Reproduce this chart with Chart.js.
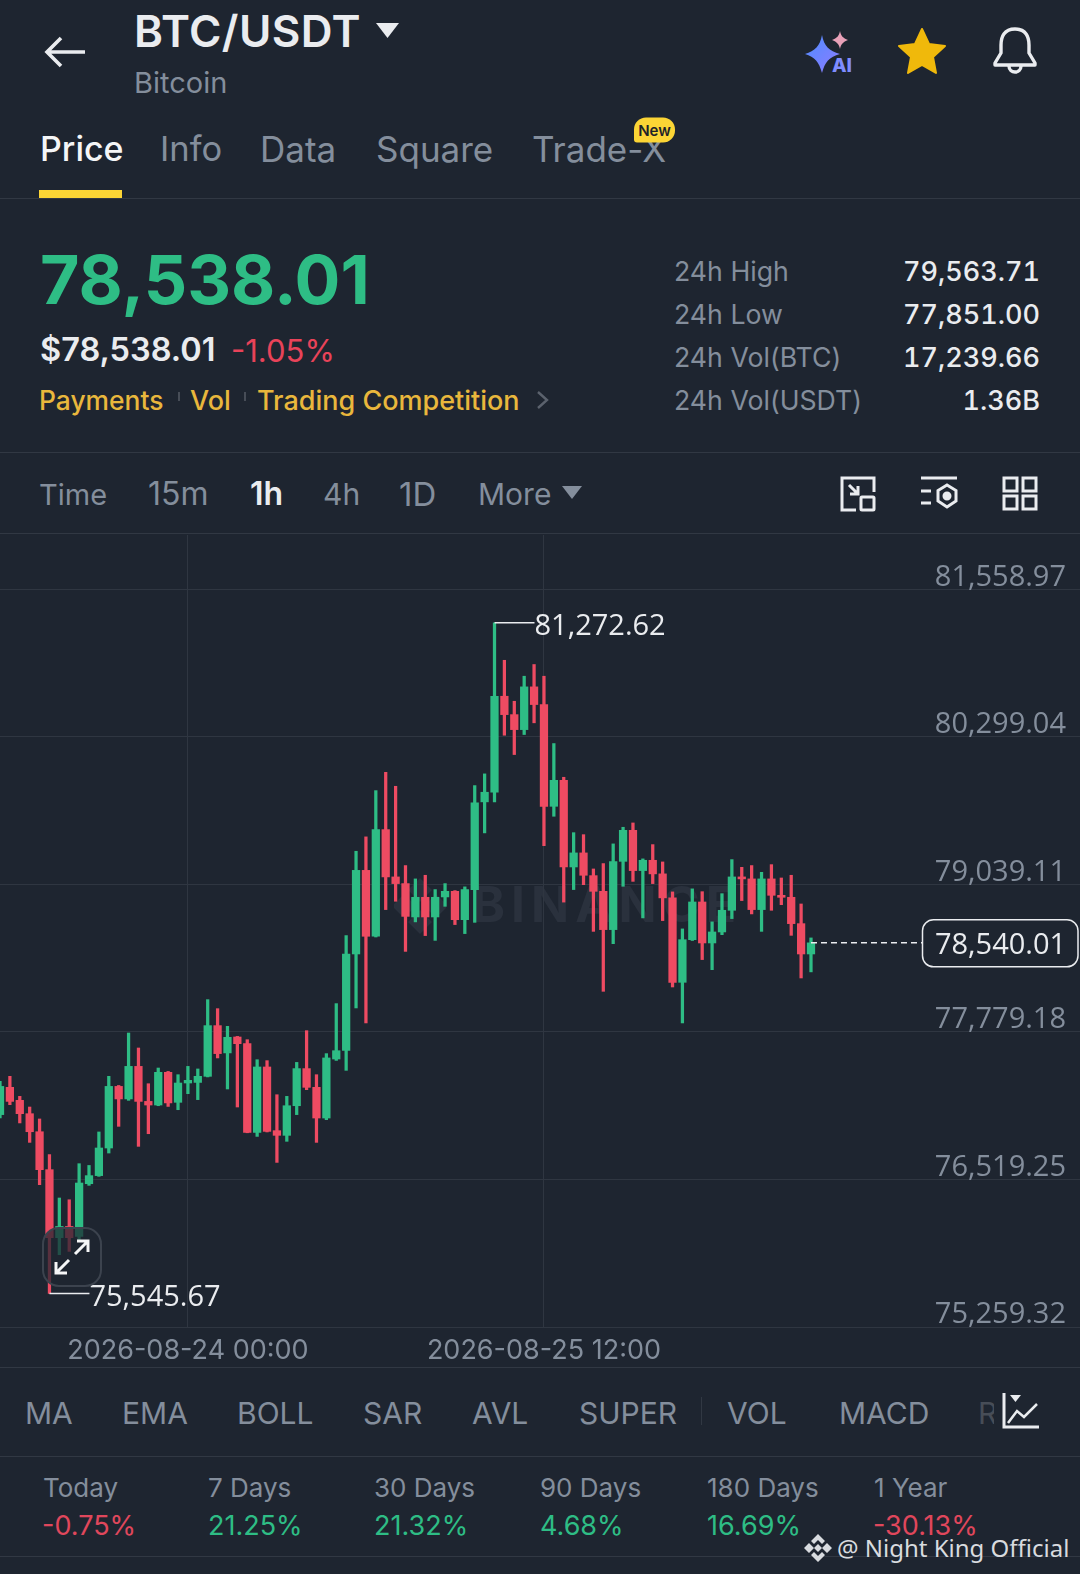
<!DOCTYPE html>
<html>
<head>
<meta charset="utf-8">
<title>BTC/USDT</title>
<script src="https://cdn.jsdelivr.net/npm/chart.js@4"></script>
<style>
html,body{margin:0;padding:0;background:#1e2530;}
#page{position:relative;width:1080px;height:1574px;overflow:hidden;background:#1e2530;font-family:Inter,"Noto Sans",sans-serif;}
.t{position:absolute;white-space:nowrap;line-height:1;transform:translateY(-50%);color:#848e9c;}
.r{transform:translate(-100%,-50%);}
.val{font-size:27px;font-weight:500;color:#eaecef;font-variant-numeric:tabular-nums;}
.line{position:absolute;left:0;width:1080px;height:1px;background:#313843;}
svg{position:absolute;}
#chartBox{position:absolute;left:0;top:535px;width:1080px;height:832px;}
#mark{position:absolute;left:472px;top:904px;transform:translateY(-50%);font-size:50px;font-weight:700;letter-spacing:6px;color:#2a313d;line-height:1;white-space:nowrap;}
#zoomBtn{position:absolute;left:42px;top:1227px;width:56px;height:56px;border:2px solid #3c434e;border-radius:17px;background:rgba(30,37,48,.72);}
</style>
</head>
<body>
<div id="page">

<svg style="left:44px;top:36px" width="42" height="32" viewBox="0 0 42 32" fill="none" stroke="#eaecef" stroke-width="3.6"><path d="M41 16H3M17 2L3 16l14 14"/></svg>
<div class="t" style="left:134px;top:31px;font-size:44px;font-weight:600;letter-spacing:.4px;color:#eaecef">BTC/USDT</div>
<svg style="left:376px;top:23px" width="23" height="15"><path d="M0 0H23L11.500 15Z" fill="#eaecef"/></svg>
<div class="t" style="left:134px;top:82px;font-size:29px">Bitcoin</div>

<svg style="left:805px;top:31px" width="50" height="42" viewBox="0 0 50 42">
<defs><linearGradient id="sp" x1="0" y1="0" x2="1" y2="1"><stop offset="0" stop-color="#4d8dff"/><stop offset="1" stop-color="#8f7bff"/></linearGradient></defs>
<path d="M17 4C19 15 24 20 35 23C24 26 20 31 17 42C14 31 10 26 0 23C10 20 15 15 17 4Z" fill="url(#sp)"/>
<path d="M35 0C36 5 38 7 43 9C38 11 36 13 35 18C34 13 32 11 27 9C32 7 34 5 35 0Z" fill="#e8a1b8"/>
<text x="27" y="41" font-family="Inter" font-size="19" font-weight="800" fill="#7f8dff">AI</text></svg>
<svg style="left:898px;top:28px" width="48" height="46" viewBox="0 0 48 46"><path d="M24 1L31 16L47 18L35 29L38 45L24 37L10 45L13 29L1 18L17 16Z" fill="#f0b90b" stroke="#f0b90b" stroke-width="2" stroke-linejoin="round"/></svg>
<svg style="left:992px;top:27px" width="46" height="48" viewBox="0 0 46 48" fill="none" stroke="#eaecef" stroke-width="3.4" stroke-linejoin="round"><path d="M23 2C12 2 9 10 9 18V26L3 36V38H43V36L37 26V18C37 10 34 2 23 2Z"/><path d="M17 39C17 47 29 47 29 39"/></svg>

<div class="t" style="left:40px;top:149px;font-size:34px;font-weight:500;color:#f5f6f7">Price</div>
<div class="t" style="left:160px;top:149px;font-size:34.500px">Info</div>
<div class="t" style="left:260px;top:149px;font-size:35px">Data</div>
<div class="t" style="left:376px;top:149px;font-size:35px">Square</div>
<div class="t" style="left:532px;top:149px;font-size:35px">Trade-X</div>
<div class="t" style="left:634px;top:130px;width:41px;height:25px;border-radius:12px 12px 12px 3px;background:#fcd535;color:#1e2329;font-size:15px;font-weight:600;line-height:25px;text-align:center">New</div>
<div style="position:absolute;left:39px;top:190px;width:83px;height:8px;background:#fcd535"></div>
<div class="line" style="top:198px"></div>

<div class="t" style="left:40px;top:279px;font-size:68px;font-weight:700;color:#2ebd85">78,538.01</div>
<div class="t" style="left:40px;top:350px;font-size:32.500px;font-weight:600;color:#eaecef">$78,538.01</div>
<div class="t" style="left:231px;top:350px;font-size:31px;color:#e94359">-1.05%</div>
<div class="t" style="left:39px;top:400px;font-size:26.400px;font-weight:500;color:#e9b73c">Payments</div>
<div class="t" style="left:190px;top:400px;font-size:27px;font-weight:500;color:#e9b73c">Vol</div>
<div class="t" style="left:257px;top:400px;font-size:27px;font-weight:500;color:#e9b73c">Trading Competition</div>
<div style="position:absolute;left:178px;top:392px;width:2px;height:9px;background:#474d57"></div>
<div style="position:absolute;left:244px;top:392px;width:2px;height:9px;background:#474d57"></div>
<svg style="left:536px;top:390px" width="14" height="20" fill="none" stroke="#5b626d" stroke-width="2.400"><path d="M2 2l9 8-9 8"/></svg>

<div class="t" style="left:674px;top:271px;font-size:26.700px">24h High</div>
<div class="t" style="left:674px;top:314px;font-size:26.700px">24h Low</div>
<div class="t" style="left:674px;top:357px;font-size:26.700px">24h Vol(BTC)</div>
<div class="t" style="left:674px;top:400px;font-size:26.700px">24h Vol(USDT)</div>
<div class="t r val" style="left:1040px;top:271px">79,563.71</div>
<div class="t r val" style="left:1040px;top:314px">77,851.00</div>
<div class="t r val" style="left:1040px;top:357px">17,239.66</div>
<div class="t r val" style="left:1040px;top:400px">1.36B</div>
<div class="line" style="top:452px"></div>

<div class="t" style="left:39px;top:494px;font-size:29px">Time</div>
<div class="t" style="left:148px;top:494px;font-size:32px">15m</div>
<div class="t" style="left:250px;top:494px;font-size:32px;font-weight:600;color:#eaecef">1h</div>
<div class="t" style="left:323px;top:494px;font-size:30px">4h</div>
<div class="t" style="left:399px;top:494px;font-size:33px">1D</div>
<div class="t" style="left:478px;top:494px;font-size:30px">More</div>
<svg style="left:562px;top:486px" width="20" height="13"><path d="M0 0H20L10 13Z" fill="#848e9c"/></svg>
<svg style="left:840px;top:476px" width="36" height="36" viewBox="0 0 36 36" fill="none" stroke="#eaecef" stroke-width="3"><path d="M16 34H2V2H34V16"/><rect x="21" y="21" width="13" height="13" rx="1"/><path d="M9 9L18 18M18 10V18H10"/></svg>
<svg style="left:920px;top:476px" width="38" height="35" viewBox="0 0 38 35" fill="none" stroke="#eaecef" stroke-width="3"><path d="M1 2H37M1 15H11M1 27H11"/><path d="M27 9L36 14.500V25L27 31L18 25V14.500Z"/><circle cx="27" cy="20" r="3" fill="#eaecef"/></svg>
<svg style="left:1002px;top:476px" width="36" height="35" viewBox="0 0 36 35" fill="none" stroke="#eaecef" stroke-width="3"><rect x="2" y="2" width="13" height="13"/><rect x="21" y="2" width="13" height="13"/><rect x="2" y="20" width="13" height="13"/><rect x="21" y="20" width="13" height="13"/></svg>
<div class="line" style="top:533px"></div>

<div id="mark">BINANCE</div>
<svg style="left:394px;top:878px" width="52" height="56" viewBox="0 0 52 56"><path d="M26 0L38 12L26 24L14 12ZM10 16L22 28L10 40L-2 28ZM42 16L54 28L42 40L30 28ZM26 32L38 44L26 56L14 44Z" fill="#2a313d"/></svg>
<div id="chartBox"><canvas id="kline"></canvas></div>
<div id="zoomBtn">
<svg style="left:9px;top:9px" width="38" height="38" viewBox="0 0 38 38" fill="none" stroke="#f5f6f7" stroke-width="3"><path d="M22 16L35 3M24 3H35V14M16 22L3 35M3 24V35H14"/></svg>
</div>

<div class="line" style="top:1367px"></div>
<div class="t" style="left:25px;top:1413px;font-size:30px">MA</div>
<div class="t" style="left:122px;top:1413px;font-size:30px">EMA</div>
<div class="t" style="left:237px;top:1413px;font-size:30px">BOLL</div>
<div class="t" style="left:363px;top:1413px;font-size:30px">SAR</div>
<div class="t" style="left:472px;top:1413px;font-size:30px">AVL</div>
<div class="t" style="left:579px;top:1413px;font-size:30px">SUPER</div>
<div style="position:absolute;left:701px;top:1397px;width:1px;height:28px;background:#313843"></div>
<div class="t" style="left:727px;top:1413px;font-size:30px">VOL</div>
<div class="t" style="left:839px;top:1413px;font-size:30px">MACD</div>
<div class="t" style="left:978px;top:1413px;font-size:30px;color:#474d57">R</div>
<div style="position:absolute;left:994px;top:1385px;width:86px;height:56px;background:#1e2530"></div>
<svg style="left:1002px;top:1393px" width="37" height="37" viewBox="0 0 37 37" fill="none" stroke="#eaecef" stroke-width="3"><path d="M2 0V34H37"/><path d="M6 30L15 18L22 24L35 11" stroke-width="2.500"/><path d="M8 2H19L13.500 9Z" fill="#eaecef" stroke="none"/></svg>
<div class="line" style="top:1456px"></div>

<div class="t" style="left:43px;top:1488px;font-size:26px">Today</div>
<div class="t" style="left:208px;top:1488px;font-size:26px">7 Days</div>
<div class="t" style="left:374px;top:1488px;font-size:26px">30 Days</div>
<div class="t" style="left:540px;top:1488px;font-size:26px">90 Days</div>
<div class="t" style="left:707px;top:1488px;font-size:26px">180 Days</div>
<div class="t" style="left:874px;top:1488px;font-size:26px">1 Year</div>
<div class="t" style="left:42px;top:1525px;font-size:27px;color:#e0475c">-0.75%</div>
<div class="t" style="left:208px;top:1525px;font-size:27px;color:#2ebd85">21.25%</div>
<div class="t" style="left:374px;top:1525px;font-size:27px;color:#2ebd85">21.32%</div>
<div class="t" style="left:540px;top:1525px;font-size:27px;color:#2ebd85">4.68%</div>
<div class="t" style="left:707px;top:1525px;font-size:27px;color:#2ebd85">16.69%</div>
<div class="t" style="left:873px;top:1525px;font-size:27px;color:#e0475c">-30.13%</div>
<div class="line" style="top:1556px"></div>
<svg style="left:804px;top:1534px" width="28" height="28" viewBox="0 0 28 28" fill="#d8dbdf"><path d="M14 0L21 7L18 10L14 6L10 10L7 7ZM5 9L10 14L5 19L0 14ZM23 9L28 14L23 19L18 14ZM14 10L18 14L14 18L10 14ZM7 21L10 18L14 22L18 18L21 21L14 28Z"/></svg>
<div class="t" style="left:837px;top:1548px;font-family:'Noto Sans';font-size:24px;color:#d8dbdf">@ Night King Official</div>

</div>

<script>
// hourly candles. index 0 is the candle on the left edge
var opens = [77073,77306,77195,77081,76927,76603,76022,76118,76033,76483,76552,76788,77314,77207,77485,77186,77155,77434,77178,77343,
  77348,77400,77833,77600,77736,77679,76921,77480,76936,76896,77149,77466,77306,77044,77548,77622,78445,79159,78596,79507,
  79103,79046,78761,78929,78761,78932,78980,78738,78995,79744,79826,80646,80489,80361,80726,80575,79706,79928,79188,79308,
  79114,78980,78653,79236,79501,79157,79245,79129,78924,78203,78567,78889,78539,78633,78818,79103,79086,78824,79086,78946,
  78929,78704,78445];
var highs = [77357,77400,77229,77138,77036,76731,76361,76346,76654,76639,76925,77400,77322,77770,77642,77337,77471,77442,77414,77485,
  77463,78055,77978,77827,77741,77713,77542,77534,77243,77229,77519,77790,77414,77594,78021,78602,79322,79445,79840,79996,
  79877,79200,79086,79117,78995,79046,78986,79018,79883,79983,81272.62,80953,80603,80817,80917,80817,80242,79954,79481,79464,
  79171,79217,79385,79527,79564,79257,79379,79231,78975,78659,79001,78977,78719,78960,79251,79185,79200,79142,79208,79094,
  79117,78872,78582];
var lows = [77044,77158,77002,76836,76475,75545.67,75877,75905,76005,76469,76546,76745,76973,77195,76802,76910,77149,77143,77115,77252,
  77201,77395,77557,77292,77138,76918,76887,76925,76665,76845,77073,77286,76836,77030,77536,77451,77984,77856,78590,78824,
  78895,78467,78719,78602,78561,78852,78696,78619,78715,79479,79744,80313,80148,80319,80419,79370,79621,78888,78995,79037,
  78638,78126,78533,79023,79065,78753,79046,78730,78163,77856,78560,78397,78311,78610,78747,78901,78787,78638,78818,78866,
  78604,78240,78292];
var closes = [77314,77186,77081,76927,76603,76022,76118,76022,76489,76552,76788,77314,77207,77485,77186,77155,77434,77173,77343,77366,
  77400,77833,77594,77733,77679,76921,77480,76930,76896,77149,77466,77306,77044,77557,77619,78445,79159,78596,79507,79103,
  79046,78766,78929,78761,78929,78980,78738,78995,79735,79826,80646,80489,80361,80726,80575,79706,79928,79188,79308,79117,
  78980,78653,79234,79501,79157,79245,79129,78924,78203,78567,78889,78539,78633,78818,79103,79086,78824,79086,78946,78929,
  78704,78445,78540.01];

var priceTicks = [81558.97, 80299.04, 79039.11, 77779.18, 76519.25, 75259.32];
var timeTicks = [19, 55];
var timeLabels = ["2026-08-24 00:00", "2026-08-25 12:00"];
var highPoint = {index: 50, price: 81272.62};
var lowPoint = {index: 5, price: 75545.67};
var lastPrice = 78540.01;

var UP = "#2ebd85";
var DOWN = "#ee4b62";
var AXIS_TEXT = "#848e9c";
var GRID = "#2f3641";
var FONT = "Inter";
var NUM_FONT = "Open Sans"; // tabular digits, the price labels line up like the reference

function money(v) {
  return v.toLocaleString("en-US", {minimumFractionDigits: 2, maximumFractionDigits: 2});
}

var wicks = [], bodies = [], colors = [];
for (var i = 0; i < opens.length; i++) {
  wicks.push({x: i, y: [lows[i], highs[i]]});
  bodies.push({x: i, y: [opens[i], closes[i]]});
  colors.push(closes[i] >= opens[i] ? UP : DOWN);
}

// high, low and last price markers
var markers = {
  id: "markers",
  afterDatasetsDraw: function (chart) {
    var ctx = chart.ctx, x = chart.scales.x, y = chart.scales.y;
    ctx.save();
    ctx.font = "29px '" + NUM_FONT + "'";
    ctx.textBaseline = "middle";
    ctx.textAlign = "left";
    ctx.lineWidth = 1.5;
    ctx.strokeStyle = "#eaecef";
    ctx.fillStyle = "#eaecef";

    [highPoint, lowPoint].forEach(function (p) {
      var px = x.getPixelForValue(p.index), py = y.getPixelForValue(p.price);
      ctx.beginPath();
      ctx.moveTo(px, py);
      ctx.lineTo(px + 40, py);
      ctx.stroke();
      ctx.fillText(money(p.price), px + 40, py + 4);
    });

    var lastY = y.getPixelForValue(lastPrice);
    ctx.setLineDash([6, 4]);
    ctx.beginPath();
    ctx.moveTo(x.getPixelForValue(opens.length - 1), lastY);
    ctx.lineTo(922, lastY);
    ctx.stroke();
    ctx.setLineDash([]);

    ctx.beginPath();
    ctx.roundRect(922.500, lastY - 23, 155.500, 47, 11);
    ctx.fillStyle = "#1e2530";
    ctx.fill();
    ctx.stroke();
    ctx.fillStyle = "#eaecef";
    ctx.textAlign = "center";
    ctx.fillText(money(lastPrice), 1000.500, lastY + 3);
    ctx.restore();
  }
};

new Chart(document.getElementById("kline"), {
  type: "bar",
  data: {
    datasets: [
      {label: "High-Low", data: wicks, backgroundColor: colors, barThickness: 2.6, order: 2},
      {label: "Open-Close", data: bodies, backgroundColor: colors, barThickness: 7.6, minBarLength: 2, order: 1}
    ]
  },
  plugins: [markers],
  options: {
    responsive: true,
    maintainAspectRatio: false,
    animation: false,
    layout: {autoPadding: false, padding: 0},
    plugins: {legend: {display: false}, tooltip: {enabled: false}},
    datasets: {bar: {grouped: false}},
    scales: {
      x: {
        type: "linear",
        offset: false,
        min: 0,
        max: 109.2,
        grid: {color: GRID, offset: false, drawTicks: false},
        border: {display: false},
        afterBuildTicks: function (axis) {
          axis.ticks = timeTicks.map(function (v) { return {value: v}; });
        },
        afterFit: function (axis) { axis.height = 40; },
        ticks: {
          autoSkip: false,
          maxRotation: 0,
          padding: 8,
          color: AXIS_TEXT,
          font: {family: FONT, size: 27},
          callback: function (v) { return timeLabels[timeTicks.indexOf(v)]; }
        }
      },
      y: {
        type: "linear",
        position: "right",
        min: 75259.32,
        max: 82023,
        grid: {color: GRID, drawTicks: false},
        border: {display: false},
        afterBuildTicks: function (axis) {
          axis.ticks = priceTicks.map(function (v) { return {value: v}; });
        },
        afterFit: function (axis) { axis.width = 0; axis.paddingTop = 0; axis.paddingBottom = 0; },
        ticks: {
          mirror: true,
          padding: -14,
          labelOffset: -12,
          color: AXIS_TEXT,
          font: {family: NUM_FONT, size: 29},
          callback: function (v) { return money(v); }
        }
      }
    }
  }
});
</script>
</body>
</html>
